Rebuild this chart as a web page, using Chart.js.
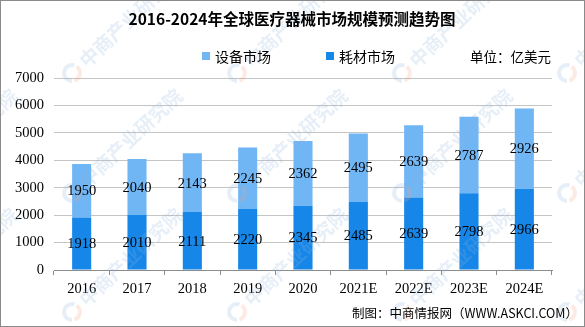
<!DOCTYPE html>
<html>
<head>
<meta charset="utf-8">
<script src="https://cdn.jsdelivr.net/npm/chart.js@4/dist/chart.umd.min.js"></script>
<style>
  html, body { margin: 0; padding: 0; background: #fff; }
  #wrap { width: 585px; height: 327px; }
</style>
</head>
<body>
<div id="wrap"><canvas id="c" width="585" height="327"></canvas></div>
<script>
// Global medical device market, 100 million USD
const years = ['2016', '2017', '2018', '2019', '2020', '2021E', '2022E', '2023E', '2024E'];
const consumables = [1918, 2010, 2111, 2220, 2345, 2485, 2639, 2798, 2966];
const equipment = [1950, 2040, 2143, 2245, 2362, 2495, 2639, 2787, 2926];
const seriesNames = ['耗材市场', '设备市场'];
const yTickValues = [0, 1000, 2000, 3000, 4000, 5000, 6000, 7000];

const titleText = '2016-2024年全球医疗器械市场规模预测趋势图';
const unitText = '单位：亿美元';
const footerText = '制图：中商情报网（WWW.ASKCI.COM）';
const watermarkText = '中商产业研究院';

const DARK = '#1687E8';
const LIGHT = '#70B6F5';
const CJK = '"Noto Sans CJK SC", "Noto Sans", sans-serif';
const NUM = '"Liberation Serif", "DejaVu Serif", serif';

// Faint diagonal brand marks tiled over the plot
const watermarkPlugin = {
  id: 'watermark',
  afterDatasetsDraw(chart) {
    const ctx = chart.ctx;
    ctx.save();
    ctx.globalAlpha = 0.22;
    const rows = [73, 193, 312];
    rows.forEach((y) => {
      for (let x = 72 - 165; x < 640; x += 165) {
        ctx.save();
        ctx.translate(x, y);
        // round logo
        ctx.lineWidth = 4;
        ctx.strokeStyle = '#8fb3dc';
        ctx.beginPath();
        ctx.arc(0, 0, 8, Math.PI * 0.5, Math.PI * 1.6);
        ctx.stroke();
        ctx.strokeStyle = '#f0a080';
        ctx.beginPath();
        ctx.arc(0, 0, 8, Math.PI * 1.7, Math.PI * 0.4);
        ctx.stroke();
        ctx.rotate(-Math.PI * 0.24);
        ctx.fillStyle = '#8fb3dc';
        ctx.font = 'bold 19px ' + CJK;
        ctx.textBaseline = 'middle';
        ctx.textAlign = 'left';
        ctx.fillText(watermarkText, 14, 0);
        ctx.restore();
      }
    });
    ctx.restore();
  }
};

// Value labels centred in each stacked segment
const segmentLabels = {
  id: 'segmentLabels',
  afterDatasetsDraw(chart) {
    const ctx = chart.ctx;
    ctx.save();
    ctx.font = '14.5px ' + NUM;
    ctx.fillStyle = '#000';
    ctx.textAlign = 'center';
    ctx.textBaseline = 'middle';
    chart.data.datasets.forEach((ds, i) => {
      chart.getDatasetMeta(i).data.forEach((bar, j) => {
        ctx.fillText(String(ds.data[j]), bar.x, (bar.y + bar.base) / 2 + 1);
      });
    });
    ctx.restore();
  }
};

// Title, legend, unit note, footer and frame
const decorations = {
  id: 'decorations',
  afterDraw(chart) {
    const ctx = chart.ctx;
    ctx.save();
    ctx.fillStyle = '#000';
    ctx.textBaseline = 'middle';

    ctx.font = 'bold 15.5px ' + CJK;
    ctx.textAlign = 'center';
    ctx.fillText(titleText, 292, 19);

    // legend: upper series first
    const items = [
      { label: chart.data.datasets[1].label, color: chart.data.datasets[1].backgroundColor, x: 202 },
      { label: chart.data.datasets[0].label, color: chart.data.datasets[0].backgroundColor, x: 326 }
    ];
    ctx.font = '14px ' + CJK;
    ctx.textAlign = 'left';
    items.forEach(it => {
      ctx.fillStyle = it.color;
      ctx.fillRect(it.x, 52, 8, 8);
      ctx.fillStyle = '#000';
      ctx.fillText(it.label, it.x + 13, 57);
    });

    ctx.font = '13.5px ' + CJK;
    ctx.fillText(unitText, 470, 57);

    ctx.font = '12.5px ' + CJK;
    ctx.textAlign = 'right';
    ctx.fillText(footerText, 578, 313);

    ctx.strokeStyle = '#8a8a8a';
    ctx.lineWidth = 1;
    ctx.strokeRect(0.5, 0.5, 584, 326);
    ctx.restore();
  }
};

new Chart(document.getElementById('c'), {
  type: 'bar',
  data: {
    labels: years,
    datasets: [
      { label: seriesNames[0], data: consumables, backgroundColor: DARK },
      { label: seriesNames[1], data: equipment, backgroundColor: LIGHT }
    ]
  },
  options: {
    responsive: false,
    devicePixelRatio: 1,
    animation: false,
    layout: { padding: { top: 78, right: 33, bottom: 0, left: 0 } },
    datasets: { bar: { barPercentage: 0.345, categoryPercentage: 1 } },
    plugins: {
      legend: { display: false },
      title: { display: false },
      tooltip: { enabled: false }
    },
    scales: {
      x: {
        stacked: true,
        grid: { offset: true, drawOnChartArea: false, drawTicks: true, tickLength: 5, color: '#8c8c8c' },
        border: { color: '#8c8c8c' },
        ticks: { color: '#000', font: { family: NUM, size: 14.5 }, padding: 5, maxRotation: 0 },
        afterFit(s) { s.height = 57; }
      },
      y: {
        stacked: true,
        min: 0,
        max: 7000,
        afterBuildTicks(s) { s.ticks = yTickValues.map(v => ({ value: v })); },
        grid: { color: '#c4c4c4', drawTicks: false },
        border: { display: false },
        ticks: { color: '#000', font: { family: NUM, size: 14.5 }, padding: 10, callback: v => String(v) },
        afterFit(s) { s.width = 54; }
      }
    }
  },
  plugins: [watermarkPlugin, segmentLabels, decorations]
});
</script>
</body>
</html>
